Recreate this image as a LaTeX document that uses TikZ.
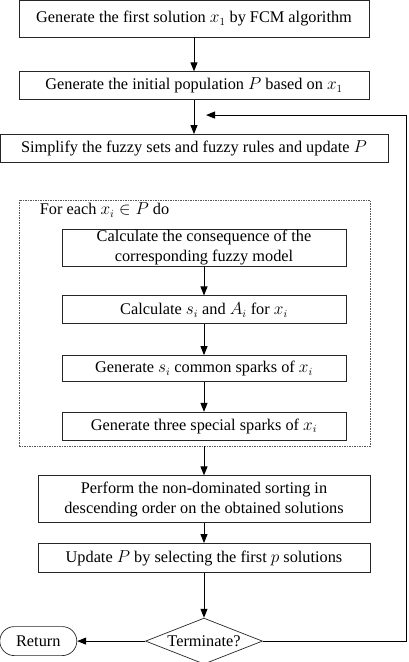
\documentclass[tikz,border=0pt]{standalone}
\usepackage{fontspec}
\setmainfont{Liberation Serif}
\usetikzlibrary{shapes.geometric, arrows.meta, positioning}
\tikzset{
    stepbox/.style={rectangle, draw=black!85, line width=0.7pt, align=center, inner sep=1pt, font=\fontsize{16.3}{20}\selectfont},
    loopbox/.style={rectangle, draw=black!65, dash pattern=on 1.5pt off 1pt, line width=0.6pt, minimum width=351pt, minimum height=246pt},
    decision/.style={diamond, draw=black!85, line width=0.7pt, aspect=2.5, minimum width=117pt, minimum height=46pt, inner sep=0pt, font=\fontsize{16.3}{20}\selectfont},
    startstop/.style={rectangle, rounded corners=14.5pt, draw=black!85, line width=0.7pt, minimum width=77pt, minimum height=29pt, font=\fontsize{16.3}{20}\selectfont},
    arrow/.style={-{Triangle[length=9pt, width=7pt]}, line width=1pt}
}
\begin{document}
\begin{tikzpicture}[x=1pt, y=-1pt]
    \useasboundingbox (0,0) rectangle (409,662);
    \node (first) [stepbox, minimum width=350pt, minimum height=37pt] at (194,18.5) {Generate the first solution $x_1$ by FCM algorithm};
    \node (init) [stepbox, minimum width=350pt, minimum height=28pt, below=34pt of first] {Generate the initial population $P$ based on $x_1$};
    \node (simp) [stepbox, minimum width=388pt, minimum height=28pt, below=34pt of init] {Simplify the fuzzy sets and fuzzy rules and update $P$};
    \node (loop) [loopbox, below=37pt of simp, xshift=0.5pt] {};
    \node (foreach) [below right=3pt and 21pt of loop.north west, inner sep=0pt, font=\fontsize{16.3}{20}\selectfont] {For each $x_i \in P$ do};
    \node (conseq) [stepbox, minimum width=284pt, minimum height=37pt, below=29pt of loop.north, xshift=9.5pt] {Calculate the consequence of the\\corresponding fuzzy model};
    \node (calc) [stepbox, minimum width=284pt, minimum height=28pt, below=29pt of conseq] {Calculate $s_i$ and $A_i$ for $x_i$};
    \node (common) [stepbox, minimum width=284pt, minimum height=26pt, below=31pt of calc] {Generate $s_i$ common sparks of $x_i$};
    \node (special) [stepbox, minimum width=284pt, minimum height=28pt, below=30pt of common] {Generate three special sparks of $x_i$};
    \node (sort) [stepbox, minimum width=332pt, minimum height=47pt, below=29pt of loop, xshift=9.5pt] {Perform the non-dominated sorting in\\descending order on the obtained solutions};
    \node (update) [stepbox, minimum width=332pt, minimum height=29pt, below=20pt of sort] {Update $P$ by selecting the first $p$ solutions};
    \node (term) [decision, below=45pt of update] {Terminate?};
    \node (ret) [startstop, left=68pt of term] {Return};
    \coordinate [below right=15pt and 12pt of init.south] (fb);

    \draw[arrow] (first) -- (init);
    \draw[arrow] (init) -- (simp);
    \draw[arrow] (conseq) -- (calc);
    \draw[arrow] (calc) -- (common);
    \draw[arrow] (common) -- (special);
    \draw[arrow] (loop.south -| sort) -- (sort);
    \draw[arrow] (sort) -- (update);
    \draw[arrow] (update) -- (term);
    \draw[arrow] (term) -- (ret);
    \draw[arrow] (term.east) -- ++(144pt,0pt) |- (fb);
\end{tikzpicture}
\end{document}
